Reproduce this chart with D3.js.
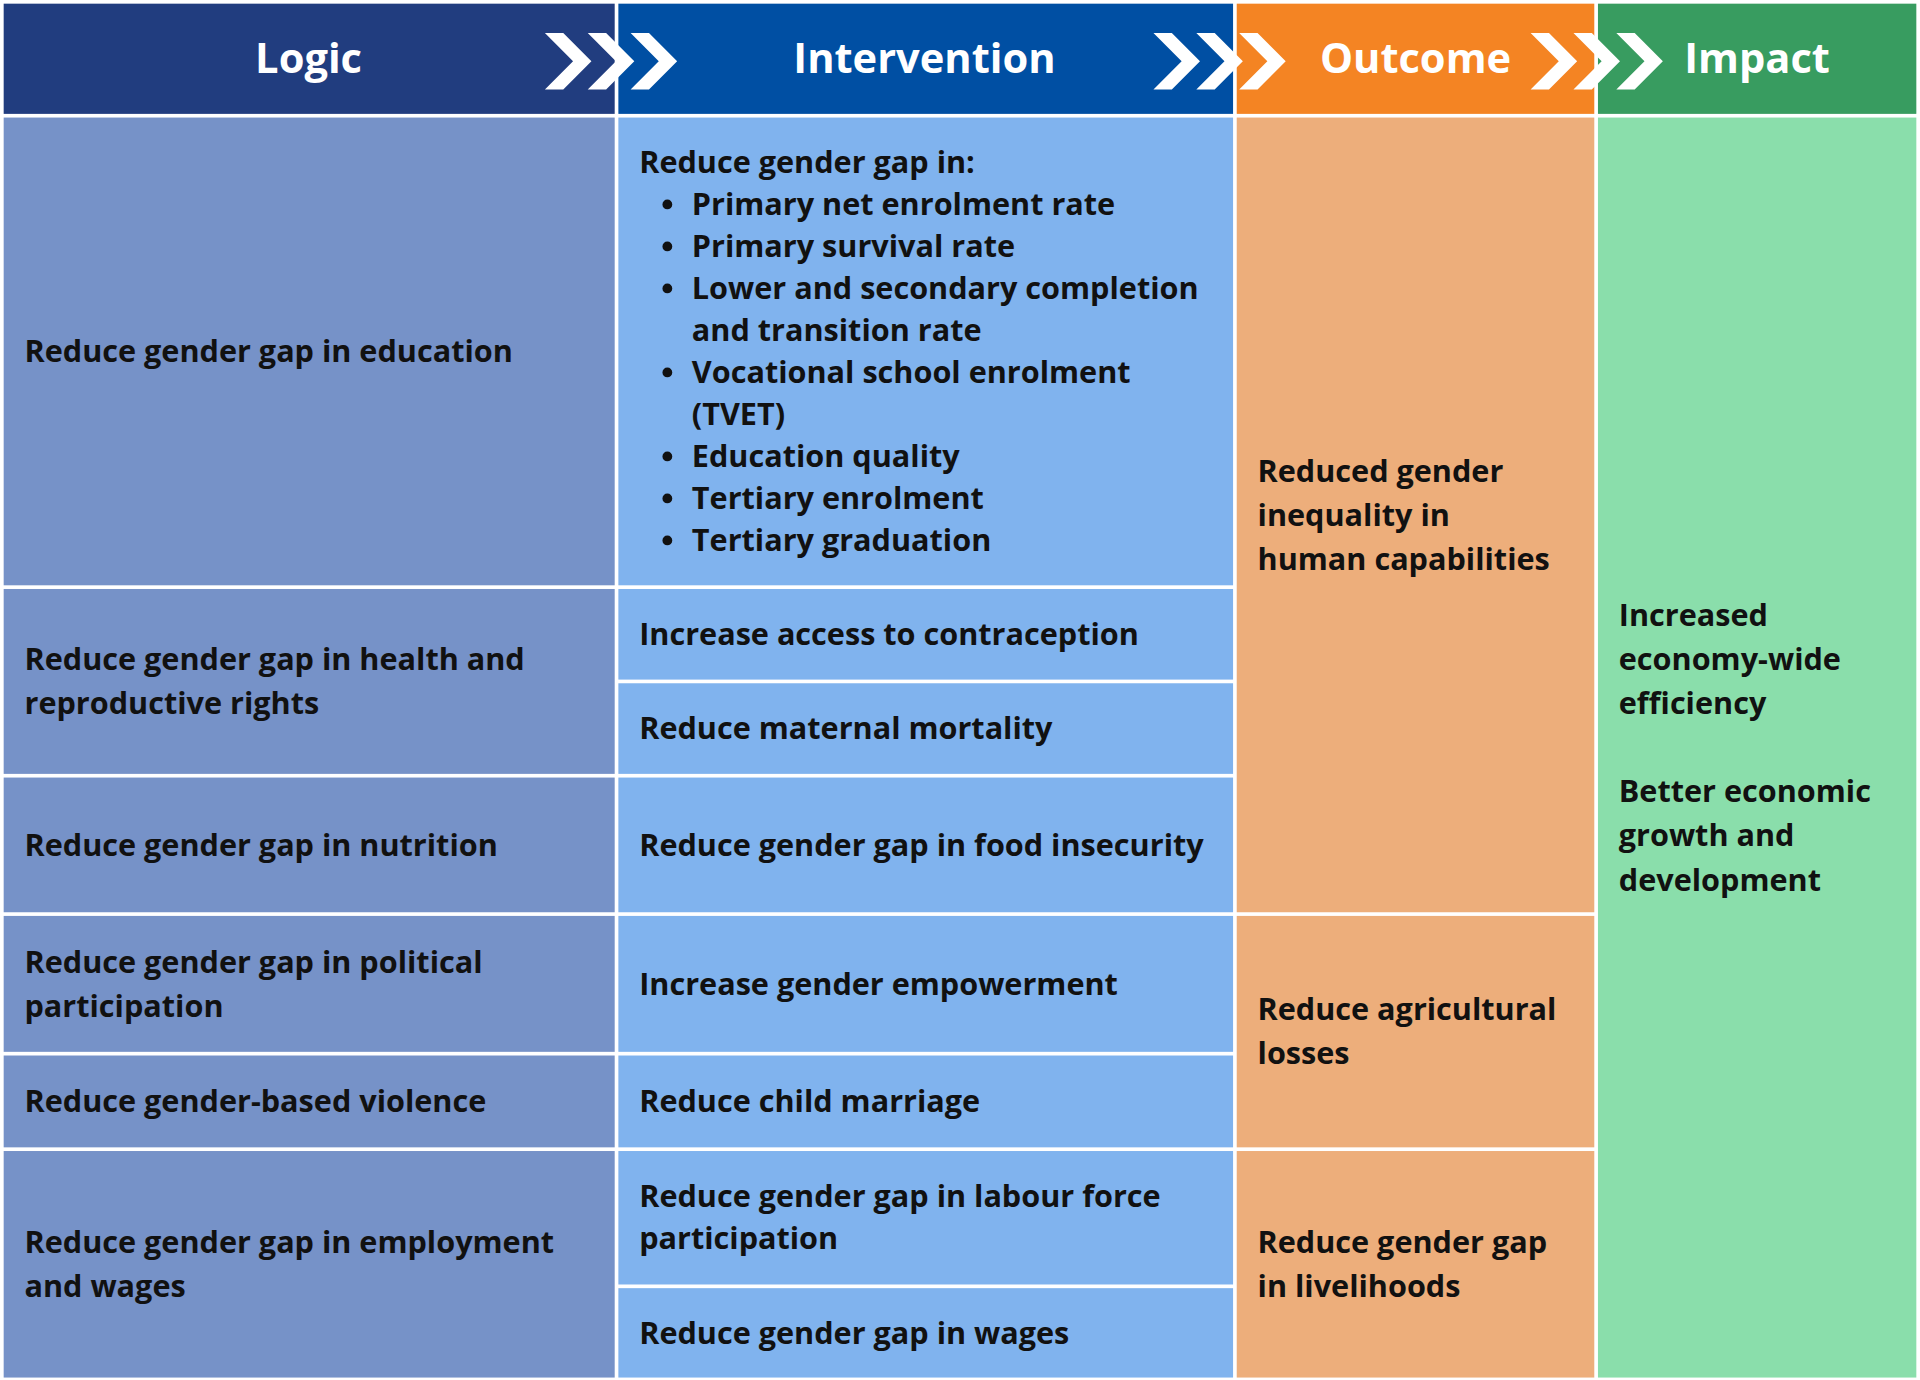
<!DOCTYPE html>
<html><head><meta charset="utf-8">
<script src="https://cdn.jsdelivr.net/npm/d3@7"></script>
<style>body{margin:0;background:#fff}</style></head>
<body><svg id="c" width="1920" height="1380" viewBox="0 0 1568 1127"></svg>
<script>
const headers = ["Logic","Intervention","Outcome","Impact"];
const headerColors = ["#213d7f","#004fa3","#f48423","#389c60"];
const bodyColors = ["#7692c8","#80b3ee","#edae7b","#8adeab"];
const columnEdges = [3,505,1010,1305,1565];
const rowUnits = [382,74,74,110,111,75,109,73];
const logic = [
 {span:[0,0], lines:["Reduce gender gap in education"]},
 {span:[1,2], lines:["Reduce gender gap in health and","reproductive rights"]},
 {span:[3,3], lines:["Reduce gender gap in nutrition"]},
 {span:[4,4], lines:["Reduce gender gap in political","participation"]},
 {span:[5,5], lines:["Reduce gender-based violence"]},
 {span:[6,7], lines:["Reduce gender gap in employment","and wages"]}
];
const interventions = [
 {span:[0,0], lines:["Reduce gender gap in:","•Primary net enrolment rate","•Primary survival rate","•Lower and secondary completion"," and transition rate","•Vocational school enrolment"," (TVET)","•Education quality","•Tertiary enrolment","•Tertiary graduation"], lh:34.3},
 {span:[1,1], lines:["Increase access to contraception"]},
 {span:[2,2], lines:["Reduce maternal mortality"]},
 {span:[3,3], lines:["Reduce gender gap in food insecurity"]},
 {span:[4,4], lines:["Increase gender empowerment"]},
 {span:[5,5], lines:["Reduce child marriage"]},
 {span:[6,6], lines:["Reduce gender gap in labour force","participation"], lh:34.3},
 {span:[7,7], lines:["Reduce gender gap in wages"]}
];
const outcomes = [
 {span:[0,3], lines:["Reduced gender","inequality in","human capabilities"]},
 {span:[4,5], lines:["Reduce agricultural","losses"]},
 {span:[6,7], lines:["Reduce gender gap","in livelihoods"]}
];
const impacts = [
 {span:[0,7], lines:["Increased","economy-wide","efficiency","","Better economic","growth and","development"]}
];

const svg = d3.select("#c");
const font = "'Open Sans', sans-serif";
const cum = [0]; rowUnits.forEach(u=>cum.push(cum[cum.length-1]+u+3));
const y = d3.scaleLinear().domain([0, cum[cum.length-1]]).range([96, 96+cum[cum.length-1]]);
const gap = 3;

// headers
headers.forEach((h,i)=>{
  const x0=columnEdges[i], x1=columnEdges[i+1]-gap;
  svg.append("rect").attr("x",x0).attr("y",3).attr("width",x1-x0+(i==3?gap:0)).attr("height",90).attr("fill",headerColors[i]);
});
const hx=[252,755,1156,1435];
headers.forEach((h,i)=>{
  svg.append("text").attr("x",hx[i]).attr("y",48).attr("dy","0.35em").attr("text-anchor","middle")
   .attr("font-family",font).attr("font-weight",700).attr("font-size",34).attr("fill","#fff").text(h);
});
// chevrons
[445,942,1250].forEach(sx=>{
  [0,35,70].forEach(o=>{
    const x=sx+o;
    svg.append("polygon").attr("fill","#fff")
     .attr("points",[[x,27],[x+15,27],[x+38,50],[x+15,73],[x,73],[x+23,50]].map(p=>p.join(",")).join(" "));
  });
});

function drawCol(items, ci){
  const x0=columnEdges[ci], x1=columnEdges[ci+1]-gap + (ci==3?gap:0);
  items.forEach(it=>{
    const ya=y(cum[it.span[0]]), yb=y(cum[it.span[1]+1])-gap;
    svg.append("rect").attr("x",x0).attr("y",ya).attr("width",x1-x0).attr("height",yb-ya).attr("fill",bodyColors[ci]);
    const lh=it.lh||36, n=it.lines.length;
    const cy=(ya+yb)/2 - (n-1)*lh/2;
    it.lines.forEach((l,k)=>{
      let tx=x0+17, s=l;
      const ty=cy+k*lh;
      if(l.startsWith("•")){
        svg.append("circle").attr("cx",x0+40).attr("cy",ty).attr("r",4).attr("fill","#111");
        s=l.slice(1); tx=x0+60;
      } else if(l.startsWith(" ")){ s=l.slice(1); tx=x0+60; }
      svg.append("text").attr("x",tx).attr("y",ty).attr("dy","0.35em")
        .attr("font-family",font).attr("font-weight",700).attr("font-size",25).attr("fill","#111").text(s);
    });
  });
}
drawCol(logic,0); drawCol(interventions,1); drawCol(outcomes,2); drawCol(impacts,3);
</script></body></html>
